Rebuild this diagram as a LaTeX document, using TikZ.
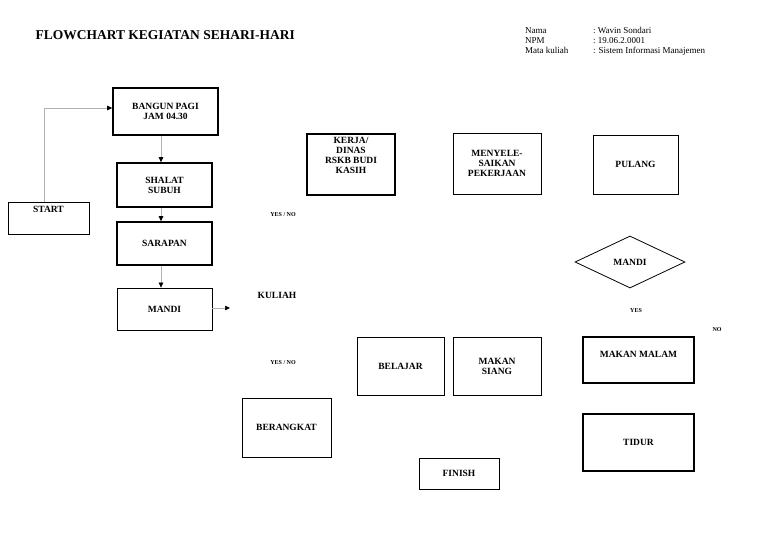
\documentclass[tikz,border=0pt]{standalone}
\usepackage{fontspec}
\setmainfont{Liberation Serif}
\usetikzlibrary{shapes.geometric,arrows.meta}
\begin{document}
\begin{tikzpicture}[x=1pt,y=-1pt,
 bx/.style={draw,line width=0.8pt,align=center,font=\bfseries\fontsize{9.5}{10}\selectfont},
 tk/.style={bx,line width=1.6pt},
 lbl/.style={font=\bfseries\fontsize{9.5}{10}\selectfont},
 sm/.style={font=\bfseries\fontsize{6}{7}\selectfont},
 ar/.style={draw=gray!60,line width=0.6pt,-{Triangle[length=5pt,width=4.5pt,color=black]}}]
\useasboundingbox (0,0) rectangle (768,543);
\fill[white] (0,0) rectangle (768,543);
\node[anchor=west,font=\bfseries\fontsize{13.5}{15}\selectfont] (title) at (32,35) {FLOWCHART KEGIATAN SEHARI-HARI};
\node[anchor=north west,align=left,font=\fontsize{9}{10}\selectfont,inner sep=0] (info1) at (525,27) {Nama\\NPM\\Mata kuliah};
\node[anchor=north west,align=left,font=\fontsize{9}{10}\selectfont,inner sep=0] (info2) at (593,27) {:\ Wavin Sondari\\:\ 19.06.2.0001\\: Sistem Informasi Manajemen};
\node[tk,minimum width=105,minimum height=47] (bangun) at (165.5,111.5) {BANGUN PAGI\\JAM 04.30};
\node[tk,minimum width=95,minimum height=44] (shalat) at (164.5,185) {SHALAT\\SUBUH};
\node[tk,minimum width=95,minimum height=43] (sarapan) at (164.5,243.5) {SARAPAN};
\node[bx,minimum width=95,minimum height=42] (mandi) at (164.5,309) {MANDI};
\node[bx,anchor=north,minimum width=81,minimum height=32] (start) at (48.5,202) {START\\[9pt]};
\node[tk,anchor=north,minimum width=88,minimum height=61] (kerja) at (351,133) {KERJA/\\DINAS\\RSKB BUDI\\KASIH\\[8pt]};
\node[bx,minimum width=88,minimum height=61] (menyele) at (497,163.5) {MENYELE-\\SAIKAN\\PEKERJAAN};
\node[bx,minimum width=85,minimum height=59] (pulang) at (635.5,164.5) {PULANG};
\node[draw,diamond,aspect=2.1,line width=0.8pt,minimum width=110,minimum height=52,inner sep=0,lbl] (dmandi) at (630,262) {MANDI};
\node[bx,minimum width=87,minimum height=58] (belajar) at (400.5,366) {BELAJAR};
\node[bx,minimum width=88,minimum height=58] (msiang) at (497,366) {MAKAN\\SIANG};
\node[tk,minimum width=111,minimum height=46] (mmalam) at (638.5,360) {MAKAN MALAM\\[2pt]};
\node[tk,minimum width=111,minimum height=57] (tidur) at (638.5,442.5) {TIDUR};
\node[bx,minimum width=89,minimum height=59] (berangkat) at (286.5,427.5) {BERANGKAT};
\node[bx,minimum width=80,minimum height=31] (finish) at (459,473.5) {FINISH};
\node[sm] (yn1) at (283,215) {YES / NO};
\node[sm] (yn2) at (283,363) {YES / NO};
\node[lbl] (kuliah) at (277,295) {KULIAH};
\node[sm] (yes) at (636,311) {YES};
\node[sm] (no) at (717,330) {NO};
\coordinate (c1) at (44,108);
\coordinate (c2) at (230,308);
\coordinate (ax) at (161,0);
\draw[draw=gray!60,line width=0.6pt] (44,202) -- (c1);
\draw[ar] (c1) -- (bangun.west |- c1);
\draw[ar] (ax |- bangun.south) -- (ax |- shalat.north);
\draw[ar] (ax |- shalat.south) -- (ax |- sarapan.north);
\draw[ar] (ax |- sarapan.south) -- (ax |- mandi.north);
\draw[ar] (mandi.east |- c2) -- (c2);
\end{tikzpicture}
\end{document}
